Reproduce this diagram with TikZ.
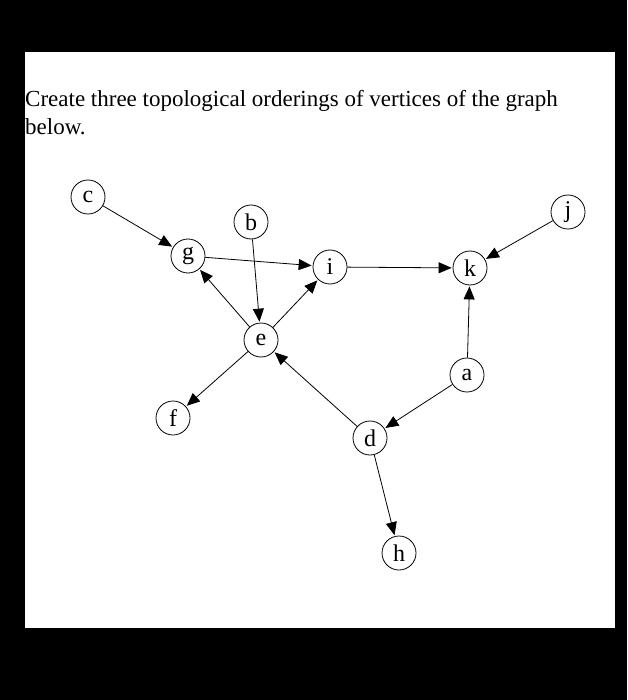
\documentclass[tikz,border=0pt]{standalone}
\usepackage{fontspec}
\setmainfont{Liberation Serif}
\usetikzlibrary{arrows.meta}
\begin{document}
\begin{tikzpicture}[x=1pt,y=-1pt,
  vtx/.style={draw,circle,minimum size=34pt,inner sep=0pt,line width=0.8pt,font=\fontsize{24}{24}\selectfont,fill=white},
  edge/.style={draw,line width=0.8pt,-{Triangle[length=13pt,width=11pt]},shorten >=1pt}]
\fill[black] (0,0) rectangle (627,700);
\fill[white] (25,52) rectangle (615,628);
\useasboundingbox (0,0) rectangle (627,700);
\node[anchor=west,font=\fontsize{23}{28}\selectfont,align=left,inner sep=0pt] (title) at (25,113) {Create three topological orderings of vertices of the graph\\below.};
\node[vtx] (c) at (88,197) {c};
\node[vtx] (b) at (251,222) {b};
\node[vtx] (j) at (568,212) {j};
\node[vtx] (g) at (188,256) {g};
\node[vtx] (i) at (330,267) {i};
\node[vtx] (k) at (470,268) {k};
\node[vtx] (e) at (261,340) {e};
\node[vtx] (a) at (467,375) {a};
\node[vtx] (f) at (173,418) {f};
\node[vtx] (d) at (370,438) {d};
\node[vtx] (h) at (399,553) {h};
\draw[edge] (c) -- (g);
\draw[edge] (b) -- (e);
\draw[edge] (j) -- (k);
\draw[edge] (g) -- (i);
\draw[edge] (i) -- (k);
\draw[edge] (e) -- (g);
\draw[edge] (e) -- (i);
\draw[edge] (e) -- (f);
\draw[edge] (a) -- (k);
\draw[edge] (a) -- (d);
\draw[edge] (d) -- (e);
\draw[edge] (d) -- (h);
\end{tikzpicture}
\end{document}
